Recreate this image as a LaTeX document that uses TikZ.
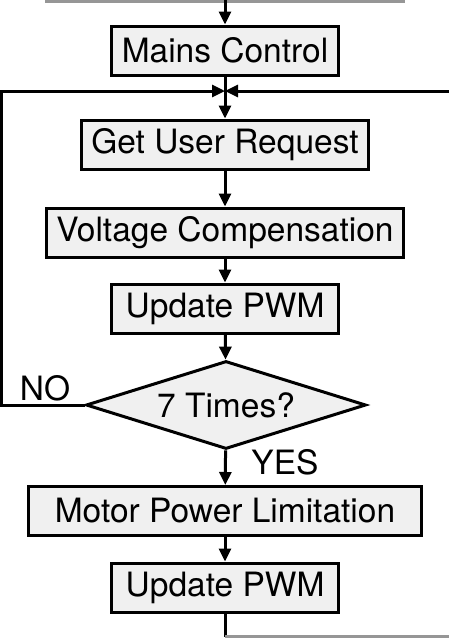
\documentclass[tikz,border=0pt]{standalone}
\usepackage{fontspec}
\setmainfont{TeX Gyre Heros}
\usetikzlibrary{positioning, arrows.meta, shapes.geometric}
\definecolor{boxgrey}{RGB}{240,240,240}
\definecolor{cutgrey}{RGB}{150,150,150}
\begin{document}
\begin{tikzpicture}[x=1pt, y=-1pt, line width=3pt,
    font=\fontsize{33.5}{40}\selectfont, >={Triangle[length=13pt,width=12pt]},
    block/.style={rectangle, draw, fill=boxgrey, inner sep=0pt, minimum height=49pt},
    decision/.style={diamond, draw, fill=boxgrey, inner sep=0pt, aspect=3.1,
      minimum width=280pt, minimum height=88pt}]
  \useasboundingbox (0,0) rectangle (449,638);
  % Blocks of the control loop
  \node[block, minimum width=227pt] (mains)   at (225,50.5) {Mains Control};
  \node[block, minimum width=287pt] (request) at (225,144.5) {Get User Request};
  \node[block, minimum width=357pt] (comp)    at (225,232.5) {Voltage Compensation};
  \node[block, minimum width=227pt] (pwma)    at (225,308.5) {Update PWM};
  \node[decision] (check) at (226,405) {7 Times?};
  \node[block, minimum width=393pt] (motor)   at (225,511) {Motor Power Limitation};
  \node[block, minimum width=227pt] (pwmb)    at (225,587.5) {Update PWM};
  \node (no)  at (45,388)  {NO};
  \node (yes) at (285,462) {YES};
  % Loose ends and the merge point
  \coordinate (topin) at (225,0);
  \coordinate (cutL) at (45,1.5); \coordinate (cutR) at (405,1.5);
  \coordinate (merge) at (225,91);
  \coordinate (rightin) at (449,91);
  \coordinate (leftup) at (1.5,91); \coordinate (leftdn) at (1.5,405);
  \coordinate (botc) at (225,636.5); \coordinate (botR) at (449,636.5);
  \draw[cutgrey] (cutL)--(cutR);
  \draw[->] (topin)--(mains);
  \draw[->] (mains)--(request);
  \draw[->] (rightin)--(merge);
  \draw[->] (check.west)--(leftdn)--(leftup)--(merge);
  \draw[->] (request)--(comp);
  \draw[->] (comp)--(pwma);
  \draw[->] (pwma)--(check);
  \draw[->] (check)--(motor);
  \draw[->] (motor)--(pwmb);
  \draw (pwmb)--(botc);
  \draw[cutgrey] (botc)--(botR);
\end{tikzpicture}
\end{document}
